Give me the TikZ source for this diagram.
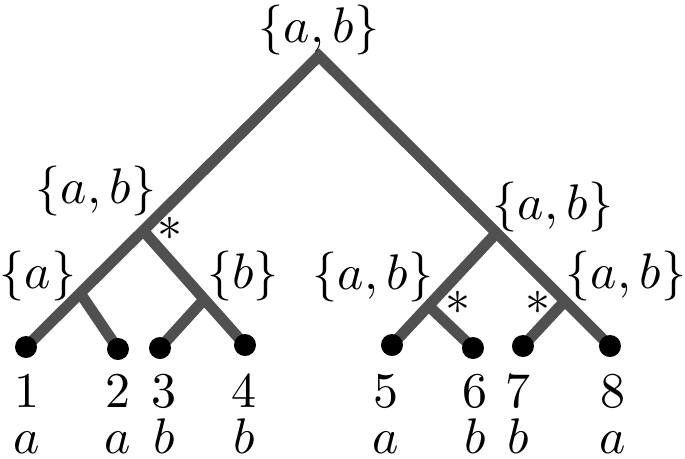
\documentclass[tikz,border=0pt]{standalone}
\usetikzlibrary{calc}
\definecolor{branch}{RGB}{80,80,80}
\begin{document}
\begin{tikzpicture}[x=0.2pt,y=-0.2pt,
  edge/.style={draw=branch,line width=2.2pt,line join=miter},
  leaf/.style={circle,fill=black,inner sep=0pt,minimum size=4.4pt},
  lab/.style={inner sep=0pt,anchor=base},
  set/.style={inner sep=0pt}]
\useasboundingbox (0,0) rectangle (685,458);
% leaf positions
\coordinate (p1) at (26,347);
\coordinate (p2) at (118,349);
\coordinate (p3) at (160,348);
\coordinate (p4) at (245,345);
\coordinate (p5) at (392,345);
\coordinate (p6) at (473,348);
\coordinate (p7) at (523,346);
\coordinate (p8) at (610,346);
% internal points
\coordinate (root) at (319,56);
\coordinate (A) at ($(root)!0.6!(p1)$);
\coordinate (na) at ($(root)!0.815!(p1)$);
\coordinate (nb) at ($(A)!0.6!(p4)$);
\coordinate (B) at ($(root)!0.61!(p8)$);
\coordinate (D) at ($(root)!0.845!(p8)$);
\coordinate (C) at ($(B)!0.65!(p5)$);
% edges
\path[edge] (p1) -- (root) -- (p8);
\path[edge] (A) -- (p4);
\path[edge] (na) -- (p2);
\path[edge] (nb) -- (p3);
\path[edge] (B) -- (p5);
\path[edge] (C) -- (p6);
\path[edge] (D) -- (p7);
% leaves
\foreach \i in {1,...,8}
  \node[leaf] (l\i) at (p\i) {};
% set labels
\node[set] (s0) at (319,30) {$\{a,b\}$};
\node[set] (s1) at (96,191) {$\{a,b\}$};
\node[set] (s2) at (38,276) {$\{a\}$};
\node[set] (s3) at (243,276) {$\{b\}$};
\node[set] (s4) at (373,277) {$\{a,b\}$};
\node[set] (s5) at (553,207) {$\{a,b\}$};
\node[set] (s6) at (626,276) {$\{a,b\}$};
\node[set] (st1) at (170,229) {$*$};
\node[set] (st2) at (458,303) {$*$};
\node[set] (st3) at (538,303) {$*$};
% numbers and letters
\foreach \i/\x/\c in {1/27/a,2/118/a,3/164/b,4/244/b,5/386/a,6/475/b,7/518/b,8/613/a}{
  \node[lab] (num\i) at (\x,407) {$\i$};
  \node[lab] (let\i) at (\x,453) {$\c$};
}
\end{tikzpicture}
\end{document}
